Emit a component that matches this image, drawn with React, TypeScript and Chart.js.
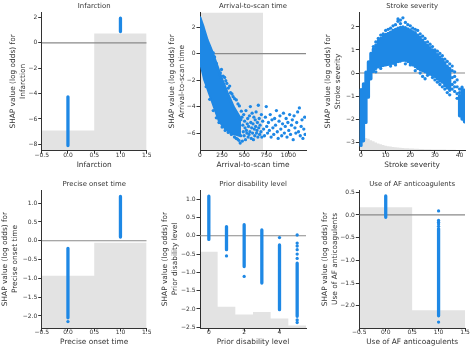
import React, { useEffect, useRef } from "react";
import { Chart, registerables } from "chart.js";

Chart.register(...registerables);

const FONT = "'DejaVu Sans', sans-serif";
const BLUE = "#1E88E5";
const INK = "#333333";

// ---------- Infarction ----------
const infarctionStripX = [0, 1];
const infarctionStripLo = [-8.1, 0.9];
const infarctionStripHi = [-4.25, 1.95];
const infarctionPointX: number[] = [];
const infarctionPointY: number[] = [];
const infarctionHistEdges = [-0.5, 0.5, 1.5];
const infarctionHistTop = [-6.9, 0.75];
const infarctionXTicks = [-0.5, 0, 0.5, 1, 1.5];
const infarctionYTicks = [-8, -6, -4, -2, 0, 2];

// ---------- Arrival-to-scan time ----------
// dense band of points: upper and lower edge read at these x values
const arrivalBandX = [0, 18, 36, 54, 82, 107, 143, 161, 196, 214, 250, 268, 310, 357, 375, 410, 464];
const arrivalBandHi = [2.7, 2.35, 2.0, 1.6, 1.0, 0.6, 0.0, -0.35, -1.0, -1.35, -2.0, -2.3, -3.0, -3.7, -4.0, -4.4, -5.0];
const arrivalBandLo = [-0.3, -1.0, -1.5, -2.0, -2.5, -3.0, -3.65, -4.0, -4.65, -5.0, -5.35, -5.5, -5.75, -6.0, -6.05, -6.1, -6.2];
const arrivalPointX = [
  150, 165, 185, 196, 230, 243, 262, 279, 292, 304, 321, 336, 346, 362, 375, 392, 411, 430, 446, 468,
  70, 110, 150, 185, 215, 250, 285, 320, 355, 390, 425, 455, 480, 440, 410,
  475, 485, 490, 495, 500, 505, 510, 515, 520, 525, 530, 535, 540, 545, 550, 555, 560, 565, 570, 575, 580, 585, 590, 595, 600,
  605, 610, 615, 620, 625, 630, 635, 640, 645, 650, 655, 660, 665, 670, 675, 680, 690, 695, 700,
  710, 720, 730, 740, 750, 755, 765, 775, 785, 795, 805, 815, 825, 835, 845, 855, 865, 875, 885, 895,
  905, 915, 925, 935, 945, 955, 965, 975, 985, 995, 1005, 1015, 1025, 1035, 1045, 1055, 1065, 1075, 1085, 1095,
  1105, 1115, 1125, 1135, 1145, 1155, 1165, 1175, 1185, 1190,
];
const arrivalPointY = [
  0.05, -0.25, -0.75, -1.1, -1.45, -1.2, -1.7, -1.8, -2.05, -2.25, -2.6, -2.45, -2.95, -3.05, -3.25, -3.4, -3.5, -3.8, -3.95, -4.35,
  -2.5, -3.45, -4.3, -4.85, -5.2, -5.55, -5.8, -5.95, -6.1, -6.3, -6.45, -6.75, -6.6, -6.55, -6.4,
  -4.8, -5.4, -5.9, -4.6, -6.2, -5.1, -5.6, -6.5, -4.3, -5.8, -6.0, -5.3, -4.9, -6.3, -5.5, -6.1, -4.7, -5.9, -4.0, -5.2, -6.4, -5.6, -4.5, -6.0, -5.3,
  -6.5, -4.8, -5.7, -6.2, -5.0, -5.5, -4.4, -6.0, -5.8, -5.2, -6.3, -3.9, -5.6, -4.9, -6.1, -5.4, -5.9, -4.6, -6.3,
  -5.1, -5.7, -6.2, -4.8, -4.0, -5.5, -6.0, -5.2, -5.8, -4.6, -6.3, -5.0, -5.6, -6.1, -4.9, -5.4, -4.3, -5.9, -6.4, -5.1,
  -4.7, -5.7, -6.2, -5.3, -4.5, -6.0, -5.5, -4.9, -6.3, -5.2, -5.8, -4.6, -6.1, -5.4, -5.0, -6.5, -4.7, -5.6, -6.0, -5.2,
  -4.4, -5.9, -4.1, -6.2, -5.5, -5.0, -6.4, -5.7, -4.8, -6.1,
];
const arrivalHistEdges = [0, 715];
const arrivalHistTop = [3.5];
const arrivalXTicks = [0, 250, 500, 750, 1000];
const arrivalYTicks = [-6, -4, -2, 0, 2];

// ---------- Stroke severity ----------
const strokeStripX = [0, 1, 2, 3, 4, 5, 6, 7, 8, 9, 10, 11, 12, 13, 14, 15, 16, 17, 18, 19, 20, 21, 22, 23, 24, 25, 26, 27, 28, 29, 30, 31, 32, 33, 34, 35, 36, 40, 41, 42];
const strokeStripLo = [-3.15, -2.95, -2.15, -1.05, -0.25, 0.07, 0.2, 0.27, 0.3, 0.33, 0.35, 0.38, 0.4, 0.42, 0.45, 0.5, 0.52, 0.55, 0.55, 0.5, 0.45, 0.35, 0.28, 0.2, 0.15, 0.1, 0.05, 0.0, -0.05, -0.1, -0.15, -0.25, -0.35, -0.4, -0.55, -0.65, -0.75, -1.86, -2.0, -2.12];
const strokeStripHi = [-0.72, -0.47, 0.04, 0.48, 0.85, 1.04, 1.21, 1.39, 1.5, 1.62, 1.68, 1.72, 1.78, 1.85, 1.9, 1.95, 1.98, 2.0, 1.97, 1.92, 1.87, 1.8, 1.75, 1.65, 1.55, 1.43, 1.32, 1.2, 1.1, 1.0, 0.9, 0.8, 0.7, 0.6, 0.45, 0.3, 0.2, -0.98, -0.62, -0.75];
const strokePointX = [
  5, 6, 7, 8, 9, 10, 11, 12, 13, 14, 15, 15, 16, 16, 17, 18, 19, 20, 21, 22, 23, 24, 25, 26, 27, 28, 29, 30, 31, 32, 33, 34, 35, 36,
  6, 8, 12, 14, 18, 20, 22, 24, 25, 26, 27, 29, 30, 31, 32, 33, 34, 35, 36,
  37, 37, 37, 37, 37, 38, 38, 38, 38, 38, 39, 39, 39, 39, 40, 40,
];
const strokePointY = [
  1.15, 1.35, 1.5, 1.65, 1.7, 1.85, 1.9, 1.95, 2.05, 2.1, 2.25, 2.35, 2.3, 2.15, 2.4, 2.2, 2.1, 2.05, 1.95, 1.9, 1.85, 1.7, 1.6, 1.5, 1.35, 1.25, 1.15, 1.0, 0.95, 0.85, 0.75, 0.6, 0.5, 0.4,
  0.05, 0.2, 0.3, 0.35, 0.4, 0.35, 0.1, 0.0, -0.15, -0.25, -0.1, -0.2, -0.3, -0.4, -0.5, -0.6, -0.7, -0.85, -0.95,
  0.3, 0.1, -0.2, -0.5, -0.7, 0.05, -0.15, -0.4, -0.6, -0.8, -0.3, -0.6, -0.9, -1.1, -0.7, -0.85,
];
const strokeHistX = [0, 1, 2, 3, 4, 5, 6, 7, 8, 9, 10, 11, 12, 13, 14, 15, 16, 17, 18, 19, 20, 21, 22, 23, 24, 25, 26, 27, 28, 29, 30, 31, 32, 33, 34, 35, 36, 37, 38, 39, 40, 41, 42];
const strokeHistTop = [-3.0, -2.86, -2.83, -2.86, -2.92, -2.97, -3.02, -3.06, -3.1, -3.13, -3.16, -3.18, -3.2, -3.22, -3.23, -3.24, -3.25, -3.26, -3.27, -3.27, -3.28, -3.28, -3.29, -3.29, -3.3, -3.3, -3.31, -3.31, -3.31, -3.32, -3.32, -3.32, -3.33, -3.33, -3.33, -3.34, -3.34, -3.34, -3.34, -3.35, -3.35, -3.35, -3.35];
const strokeXTicks = [0, 10, 20, 30, 40];
const strokeYTicks = [-3, -2, -1, 0, 1, 2];

// ---------- Precise onset time ----------
const preciseStripX = [0, 1];
const preciseStripLo = [-2.05, 0.1];
const preciseStripHi = [-0.2, 1.18];
const precisePointX = [0];
const precisePointY = [-2.15];
const preciseHistEdges = [-0.5, 0.5, 1.5];
const preciseHistTop = [-0.93, -0.05];
const preciseXTicks = [-0.5, 0, 0.5, 1, 1.5];
const preciseYTicks = [-2, -1.5, -1, -0.5, 0, 0.5, 1];

// ---------- Prior disability level ----------
const priorStripX = [0, 1, 2, 3, 4, 5];
const priorStripLo = [-0.1, -0.38, -0.84, -1.29, -2.02, -2.2];
const priorStripHi = [1.08, 0.25, 0.3, 0.16, -0.25, -0.75];
const priorPointX = [1, 2, 4, 5, 5, 5, 5, 5, 5, 5, 5];
const priorPointY = [-0.55, -1.11, -0.05, 0.02, -0.2, -0.28, -0.38, -0.5, -0.62, -2.3, -2.37];
const priorHistEdges = [-0.5, 0.5, 1.5, 2.5, 3.5, 4.5, 5.5];
const priorHistTop = [-0.44, -1.94, -2.15, -2.08, -2.26, -2.45];
const priorXTicks = [0, 2, 4];
const priorYTicks = [-2.5, -2, -1.5, -1, -0.5, 0, 0.5, 1];

// ---------- Use of AF anticoagulents ----------
const afStripX = [0, 1];
const afStripLo = [-0.05, -2.22];
const afStripHi = [0.42, -0.3];
const afPointX = [1, 1, 1, 1, 1, 1];
const afPointY = [0.09, -0.12, -0.16, -0.2, -0.25, -2.36];
const afHistEdges = [-0.5, 0.5, 1.5];
const afHistTop = [0.17, -2.1];
const afXTicks = [-0.5, 0, 0.5, 1, 1.5];
const afYTicks = [-2, -1.5, -1, -0.5, 0, 0.5];

type Panel = {
  name: string;
  xMin: number; xMax: number; yMin: number; yMax: number;
  xTicks: number[]; yTicks: number[]; xDec: number; yDec: number;
  stripX: number[]; stripLo: number[]; stripHi: number[];
  bandX?: number[]; bandLo?: number[]; bandHi?: number[];
  pointX: number[]; pointY: number[];
  histEdges: number[]; histTop: number[];
};

const panels: Panel[] = [
  { name: "Infarction", xMin: -0.5, xMax: 1.5, yMin: -8.47, yMax: 2.4, xTicks: infarctionXTicks, yTicks: infarctionYTicks, xDec: 1, yDec: 0,
    stripX: infarctionStripX, stripLo: infarctionStripLo, stripHi: infarctionStripHi, pointX: infarctionPointX, pointY: infarctionPointY,
    histEdges: infarctionHistEdges, histTop: infarctionHistTop },
  { name: "Arrival-to-scan time", xMin: 0, xMax: 1200, yMin: -7.3, yMax: 3.1, xTicks: arrivalXTicks, yTicks: arrivalYTicks, xDec: 0, yDec: 0,
    stripX: [], stripLo: [], stripHi: [], bandX: arrivalBandX, bandLo: arrivalBandLo, bandHi: arrivalBandHi,
    pointX: arrivalPointX, pointY: arrivalPointY, histEdges: arrivalHistEdges, histTop: arrivalHistTop },
  { name: "Stroke severity", xMin: -0.7, xMax: 42.2, yMin: -3.36, yMax: 2.63, xTicks: strokeXTicks, yTicks: strokeYTicks, xDec: 0, yDec: 0,
    stripX: strokeStripX, stripLo: strokeStripLo, stripHi: strokeStripHi, pointX: strokePointX, pointY: strokePointY,
    histEdges: [...strokeHistX.map((v) => v - 0.5), strokeHistX[strokeHistX.length - 1] + 0.5], histTop: strokeHistTop },
  { name: "Precise onset time", xMin: -0.5, xMax: 1.5, yMin: -2.32, yMax: 1.35, xTicks: preciseXTicks, yTicks: preciseYTicks, xDec: 1, yDec: 1,
    stripX: preciseStripX, stripLo: preciseStripLo, stripHi: preciseStripHi, pointX: precisePointX, pointY: precisePointY,
    histEdges: preciseHistEdges, histTop: preciseHistTop },
  { name: "Prior disability level", xMin: -0.5, xMax: 5.5, yMin: -2.52, yMax: 1.25, xTicks: priorXTicks, yTicks: priorYTicks, xDec: 0, yDec: 1,
    stripX: priorStripX, stripLo: priorStripLo, stripHi: priorStripHi, pointX: priorPointX, pointY: priorPointY,
    histEdges: priorHistEdges, histTop: priorHistTop },
  { name: "Use of AF anticoagulents", xMin: -0.5, xMax: 1.5, yMin: -2.49, yMax: 0.55, xTicks: afXTicks, yTicks: afYTicks, xDec: 1, yDec: 1,
    stripX: afStripX, stripLo: afStripLo, stripHi: afStripHi, pointX: afPointX, pointY: afPointY,
    histEdges: afHistEdges, histTop: afHistTop },
];

type Geo = { cx: number; cy: number; cw: number; ch: number; l: number; t: number; r: number; b: number; yTitleX: number; xTitleY: number; xTickPad: number };

const geos: Geo[] = [
  { cx: 0, cy: 0, cw: 155, ch: 172, l: 41.7, t: 12.5, r: 146.7, b: 150.3, yTitleX: 13.3, xTitleY: 165.3, xTickPad: -1.1 },
  { cx: 155, cy: 0, cw: 155, ch: 172, l: 200, t: 12.5, r: 306.7, b: 150.3, yTitleX: 172.3, xTitleY: 165.3, xTickPad: -1.1 },
  { cx: 310, cy: 0, cw: 164, ch: 172, l: 359.3, t: 12.5, r: 465, b: 150.3, yTitleX: 328, xTitleY: 165.3, xTickPad: -1.1 },
  { cx: 0, cy: 177, cw: 155, ch: 174, l: 41.7, t: 190, r: 146.7, b: 328, yTitleX: 5, xTitleY: 342, xTickPad: -1.6 },
  { cx: 155, cy: 177, cw: 155, ch: 174, l: 200, t: 190, r: 306, b: 328, yTitleX: 165, xTitleY: 342, xTickPad: -1.6 },
  { cx: 310, cy: 177, cw: 164, ch: 174, l: 359.3, t: 190, r: 465, b: 328, yTitleX: 325, xTitleY: 342, xTickPad: -1.6 },
];

const fmt = (v: number, d: number) => {
  const s = Math.abs(v).toFixed(d);
  return v < 0 ? "\u2212" + s : s;
};

function stripData(xs: number[], lo: number[], hi: number[]) {
  const out: { x: number; y: number | null }[] = [];
  xs.forEach((x, i) => {
    out.push({ x, y: lo[i] }, { x, y: hi[i] }, { x, y: null });
  });
  return out;
}

function histData(edges: number[], tops: number[]) {
  const out = tops.map((t, i) => ({ x: edges[i], y: t }));
  out.push({ x: edges[edges.length - 1], y: tops[tops.length - 1] });
  return out;
}

const TITLE_SIZE = 6.9;
const LABEL_SIZE = 7.4;
const TICK_SIZE = 6;

function PanelChart({ p, g }: { p: Panel; g: Geo }) {
  const ref = useRef<HTMLCanvasElement>(null);
  useEffect(() => {
    const titleLH = TITLE_SIZE * 1.2;
    const yLabLH = LABEL_SIZE * 1.3;
    const xLabLH = LABEL_SIZE * 1.2;
    const titlePadTop = g.t - 10 - g.cy;
    const titlePadBottom = g.t - g.cy - titlePadTop - titleLH;
    const yAxisW = g.l - g.cx;
    const xAxisH = g.cy + g.ch - g.b;
    const yTitlePad = g.yTitleX - g.cx - yLabLH / 2;
    const xTitlePad = g.cy + g.ch - g.xTitleY - xLabLH / 2;
    const tickFont = { family: FONT, size: TICK_SIZE, lineHeight: 1 };

    const datasets: any[] = [
      {
        type: "line",
        data: histData(p.histEdges, p.histTop),
        stepped: true,
        fill: "start",
        backgroundColor: "rgba(0,0,0,0.11)",
        borderColor: "rgba(0,0,0,0)",
        borderWidth: 0,
        pointRadius: 0,
        order: 3,
      },
      {
        type: "line",
        data: [{ x: p.xMin, y: 0 }, { x: p.xMax, y: 0 }],
        borderColor: "#8a8a8a",
        borderWidth: 1.2,
        pointRadius: 0,
        fill: false,
        order: 2,
      },
    ];
    if (p.bandX && p.bandHi && p.bandLo) {
      const bx = p.bandX;
      datasets.push(
        {
          type: "line",
          data: bx.map((x, i) => ({ x, y: (p.bandHi as number[])[i] })),
          borderColor: BLUE,
          backgroundColor: BLUE,
          borderWidth: 3,
          borderJoinStyle: "round",
          borderCapStyle: "round",
          pointRadius: 0,
          fill: "+1",
          order: 1,
        },
        {
          type: "line",
          data: bx.map((x, i) => ({ x, y: (p.bandLo as number[])[i] })),
          borderColor: BLUE,
          borderWidth: 3,
          borderJoinStyle: "round",
          borderCapStyle: "round",
          pointRadius: 0,
          fill: false,
          order: 1,
        }
      );
    }
    datasets.push(
      {
        type: "line",
        data: stripData(p.stripX, p.stripLo, p.stripHi),
        borderColor: BLUE,
        borderWidth: 3.3,
        borderCapStyle: "round",
        pointRadius: 0,
        fill: false,
        spanGaps: false,
        order: 1,
      },
      {
        type: "scatter",
        data: p.pointX.map((x, i) => ({ x, y: p.pointY[i] })),
        backgroundColor: BLUE,
        borderWidth: 0,
        pointRadius: 1.65,
        order: 0,
      }
    );

    const chart = new Chart(ref.current as HTMLCanvasElement, {
      type: "scatter",
      data: { datasets },
      options: {
        animation: false,
        responsive: false,
        devicePixelRatio: 1,
        events: [],
        layout: { padding: { left: 0, top: 0, bottom: 0, right: g.cx + g.cw - g.r } },
        plugins: {
          legend: { display: false },
          tooltip: { enabled: false },
          title: {
            display: true,
            text: p.name,
            fullSize: false,
            color: INK,
            font: { family: FONT, size: TITLE_SIZE, weight: "normal", lineHeight: 1.2 },
            padding: { top: titlePadTop, bottom: titlePadBottom },
          },
        },
        scales: {
          x: {
            type: "linear",
            min: p.xMin,
            max: p.xMax,
            afterBuildTicks: (s: any) => { s.ticks = p.xTicks.map((value) => ({ value })); },
            afterFit: (s: any) => { s.height = xAxisH; },
            ticks: { font: tickFont, color: INK, padding: g.xTickPad, maxRotation: 0, autoSkip: false, callback: (v: any) => fmt(Number(v), p.xDec) },
            grid: { drawOnChartArea: false, drawTicks: true, tickLength: 3.5, color: INK },
            border: { display: true, color: INK, width: 1 },
            title: { display: true, text: p.name, color: INK, font: { family: FONT, size: LABEL_SIZE, lineHeight: 1.2 }, padding: { top: 0, bottom: xTitlePad } },
          },
          y: {
            type: "linear",
            min: p.yMin,
            max: p.yMax,
            afterBuildTicks: (s: any) => { s.ticks = p.yTicks.map((value) => ({ value })); },
            afterFit: (s: any) => { s.width = yAxisW; },
            ticks: { font: tickFont, color: INK, padding: 0.9, autoSkip: false, callback: (v: any) => fmt(Number(v), p.yDec) },
            grid: { drawOnChartArea: false, drawTicks: true, tickLength: 3.5, color: INK },
            border: { display: true, color: INK, width: 1 },
            title: { display: true, text: ["SHAP value (log odds) for", p.name], color: INK, font: { family: FONT, size: LABEL_SIZE, lineHeight: 1.3 }, padding: { top: yTitlePad, bottom: 0 } },
          },
        },
      } as any,
    });
    return () => chart.destroy();
  }, []);
  return (
    <canvas
      ref={ref}
      width={g.cw}
      height={g.ch}
      style={{ position: "absolute", left: g.cx, top: g.cy, width: g.cw, height: g.ch }}
    />
  );
}

export default function App() {
  return (
    <div>
      {panels.map((p, i) => (
        <PanelChart key={p.name} p={p} g={geos[i]} />
      ))}
    </div>
  );
}
